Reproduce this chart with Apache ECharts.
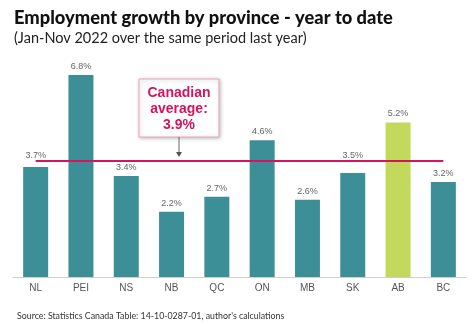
<!DOCTYPE html>
<html><head><meta charset="utf-8">
<script src="https://cdn.jsdelivr.net/npm/echarts@6/dist/echarts.min.js"></script>
<style>html,body{margin:0;padding:0;background:#fff}#c{width:474px;height:324px}</style>
</head><body><div id="c"></div>
<script>
var categories = ['NL','PEI','NS','NB','QC','ON','MB','SK','AB','BC'];
var values = [3.7, 6.8, 3.4, 2.2, 2.7, 4.6, 2.6, 3.5, 5.2, 3.2];
var highlight = ['AB'];
var average = 3.9;
var titleText = 'Employment growth by province - year to date';
var subtitleText = '(Jan-Nov 2022 over the same period last year)';
var sourceText = "Source: Statistics Canada Table: 14-10-0287-01, author's calculations";
var labelLift = {NL: 3, SK: 9};

var teal = '#3d8f97', green = '#c3d95c', pink = '#d4145f';
var chart = echarts.init(document.getElementById('c'));
var data = values.map(function(v, i){
  var c = categories[i];
  return {
    value: v,
    itemStyle: {color: highlight.indexOf(c) >= 0 ? green : teal},
    label: {offset: [0, -(labelLift[c] || 0)]}
  };
});
chart.setOption({
  animation: false,
  title: [
    {text: titleText, left: 9, top: 4, textStyle: {fontFamily: 'Lato', fontWeight: 900, fontSize: 18.3, color: '#111'}},
    {text: subtitleText, left: 9, top: 26, textStyle: {fontFamily: 'Lato', fontWeight: 'normal', fontSize: 14.5, color: '#222'}},
    {text: sourceText, left: 12, top: 307, textStyle: {fontFamily: 'Lato', fontWeight: 'normal', fontSize: 8.8, color: '#333'}}
  ],
  grid: {left: 13, right: 8, top: 69, bottom: 47},
  xAxis: {
    type: 'category', data: categories,
    axisLine: {lineStyle: {color: '#cfcfcf', width: 1}},
    axisTick: {show: false},
    axisLabel: {color: '#555', fontFamily: 'Liberation Sans', fontSize: 10, margin: 6}
  },
  yAxis: {type: 'value', min: 0, max: 7, show: false, splitLine: {show: false}},
  series: [{
    type: 'bar', data: data, barWidth: 25,
    label: {show: true, position: 'top', distance: 4, formatter: function(p){return p.value.toFixed(1) + '%';},
      color: '#666', fontFamily: 'Liberation Sans', fontSize: 9},
    markLine: {
      symbol: 'none', silent: true,
      label: {show: false},
      lineStyle: {color: pink, width: 2.2, type: 'solid'},
      data: [[{xAxis: categories[0], yAxis: average}, {xAxis: categories[categories.length-1], yAxis: average}]]
    }
  }]
});
// annotation box anchored to the average line
var pt = chart.convertToPixel({gridIndex: 0}, [3, average]);
var cx = 179, lineY = pt[1];
var boxTop = 79, boxBottom = 137, boxW = 80;
chart.setOption({
  graphic: [
    {type: 'rect', shape: {x: cx - boxW/2, y: boxTop, width: boxW, height: boxBottom - boxTop},
      style: {fill: '#fff', stroke: '#e6a3bd', lineWidth: 1, shadowBlur: 4, shadowColor: 'rgba(0,0,0,0.25)', shadowOffsetX: 1, shadowOffsetY: 1}},
    {type: 'text', x: cx, y: boxTop + 6, style: {text: 'Canadian\naverage:\n' + average.toFixed(1) + '%', fill: pink,
      font: 'bold 14px "Liberation Sans"', align: 'center', verticalAlign: 'top', lineHeight: 16}},
    {type: 'line', shape: {x1: cx, y1: boxBottom, x2: cx, y2: lineY - 8}, style: {stroke: '#666', lineWidth: 1}},
    {type: 'polygon', shape: {points: [[cx - 3, lineY - 9], [cx + 3, lineY - 9], [cx, lineY - 4]]}, style: {fill: '#555'}}
  ]
});
</script></body></html>
